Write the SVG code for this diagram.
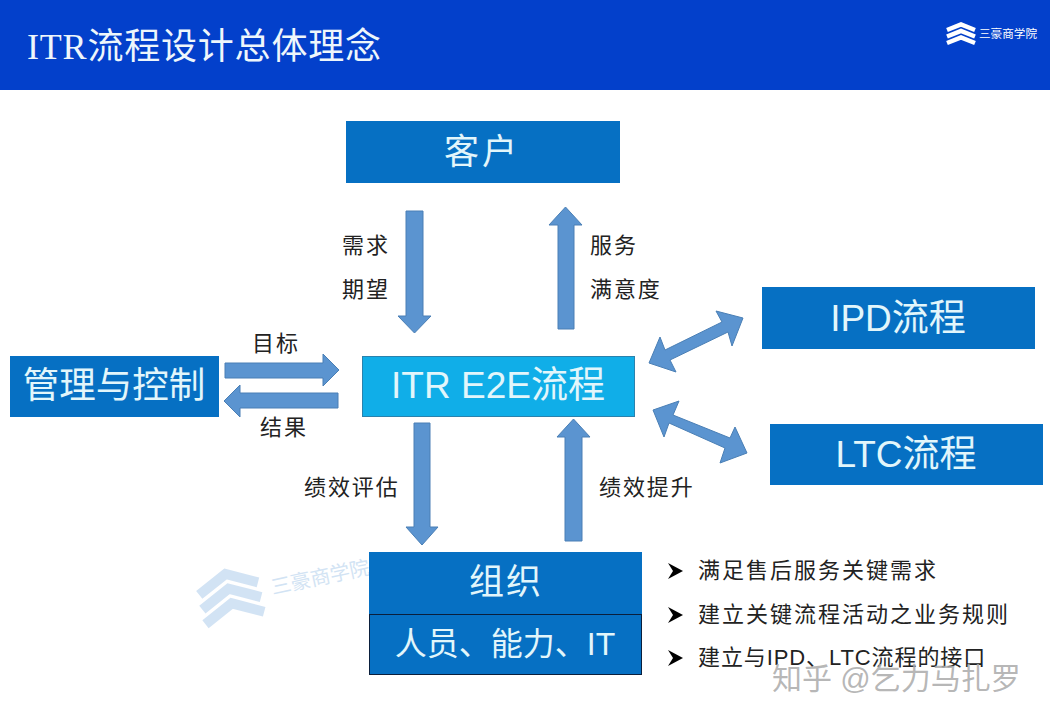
<svg xmlns="http://www.w3.org/2000/svg" width="1050" height="720" viewBox="0 0 1050 720">
<style>
text{font-family:"Liberation Sans","Noto Sans CJK SC",sans-serif}
.n{fill:#0670c3}
.nt{fill:#e2f6fb;font-size:37px;text-anchor:middle;dominant-baseline:central}
.a{fill:#5b94d0;stroke:#4a7fb5;stroke-width:1}
.l{fill:#222;font-size:22px;letter-spacing:1.9px;dominant-baseline:central}
.b{fill:#222;font-size:22px;letter-spacing:2px;dominant-baseline:central}
.m{fill:#000}
.chev{fill:none;stroke-width:4.500}
</style>
<rect width="1050" height="720" fill="#fff"/>
<g id="header">
<rect width="1050" height="90" fill="#0340cb"/>
<text x="27" y="47" font-size="36" letter-spacing="0.8" fill="#eef6fb" dominant-baseline="central" style="font-family:'Liberation Serif','Noto Sans CJK SC',serif">ITR流程设计总体理念</text>
<g id="logo" stroke="#fff" class="chev">
<path d="M947 30L961 24.500L975 30"/><path d="M947 36.500L961 31L975 36.500"/><path d="M947 43L961 37.500L975 43"/>
</g>
<text x="979" y="33" font-size="11.600" fill="#fff" dominant-baseline="central">三豪商学院</text>
</g>
<g id="watermark" opacity=".7" transform="rotate(-12 280 590)">
<g stroke="#c0d8f0" class="chev" style="stroke-width:10">
<path d="M200 578L230 563L260 578"/><path d="M200 593L230 578L260 593"/><path d="M200 608L230 593L260 608"/>
</g>
<text x="272" y="586" font-size="20" fill="#c0d8f0" dominant-baseline="central">三豪商学院</text>
</g>
<g id="connectors">
<polygon class="a" points="406,211 423,211 423,316 431,316 414.500,333 398,316 406,316"/>
<polygon class="a" points="558,329 574,329 574,225 582,225 565.500,207 549,225 558,225"/>
<polygon class="a" points="225,363 323,363 323,354 339,370 323,386 323,378 225,378"/>
<polygon class="a" points="338,393 240,393 240,385 224,401 240,417 240,408 338,408"/>
<polygon class="a" points="414,423 430,423 430,527 438,527 422,545 406,527 414,527"/>
<polygon class="a" points="565,541 582,541 582,437 590,437 573.500,419 557,437 565,437"/>
<polygon class="a" points="649,363 660,337 665,350 722,322 716,311 743,318 732,346 728,332 670,360 676,372"/>
<polygon class="a" points="653,410 679,401 673,415 730,438 735,427 747,453 720,463 725,448 669,423 664,437"/>
</g>
<g id="customer"><rect class="n" x="346" y="121" width="274" height="62"/><text class="nt" x="482" y="151" style="font-size:35px" letter-spacing="3">客户</text></g>
<g id="ipd"><rect class="n" x="762" y="287" width="273" height="62"/><text class="nt" x="898" y="318">IPD流程</text></g>
<g id="ltc"><rect class="n" x="770" y="424" width="273" height="61"/><text class="nt" x="906" y="454">LTC流程</text></g>
<g id="mgmt"><rect class="n" x="10" y="356" width="209" height="61"/><text class="nt" x="114" y="385" style="font-size:36.500px">管理与控制</text></g>
<g id="itr"><rect x="362.500" y="356.500" width="272" height="60" fill="#10aee8" stroke="#2a82ad" stroke-width="1"/><text class="nt" x="498" y="385">ITR E2E流程</text></g>
<g id="org"><rect class="n" x="369" y="552" width="273" height="62"/><text class="nt" x="506" y="581" style="font-size:35px" letter-spacing="2">组织</text></g>
<g id="people"><rect class="n" x="369.500" y="614.500" width="272" height="60" stroke="#0a1f3c" stroke-width="1"/><text class="nt" x="505" y="644" style="font-size:32px">人员、能力、IT</text></g>
<g id="labels">
<text class="l" x="342" y="245">需求</text>
<text class="l" x="342" y="289">期望</text>
<text class="l" x="590" y="245">服务</text>
<text class="l" x="590" y="289">满意度</text>
<text class="l" x="252" y="343">目标</text>
<text class="l" x="260" y="427">结果</text>
<text class="l" x="304" y="487">绩效评估</text>
<text class="l" x="599" y="487">绩效提升</text>
</g>
<g id="bullets">
<polygon class="m" points="668,563 683,571 668,579 673,571"/>
<polygon class="m" points="668,607 683,615 668,623 673,615"/>
<polygon class="m" points="668,650 683,658 668,666 673,658"/>
<text class="b" x="698" y="570">满足售后服务关键需求</text>
<text class="b" x="698" y="614">建立关键流程活动之业务规则</text>
<text class="b" x="698" y="657" style="letter-spacing:0.900px">建立与IPD、LTC流程的接口</text>
</g>
<text id="zhihu" x="772" y="678" font-size="30" fill="#aaa" fill-opacity=".85" dominant-baseline="central">知乎 @乞力马扎罗</text>
</svg>
